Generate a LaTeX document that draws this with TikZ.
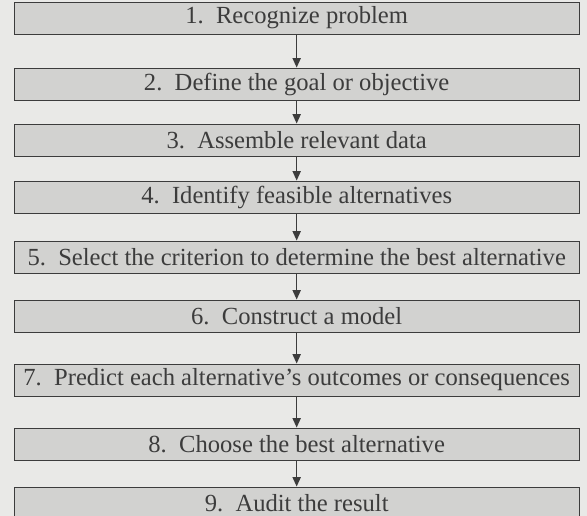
\documentclass[tikz,border=0pt]{standalone}
\usepackage{fontspec}
\setmainfont{Liberation Serif}
\usetikzlibrary{arrows.meta}
\definecolor{paper}{HTML}{E9E9E7}
\definecolor{boxfill}{HTML}{D2D2D0}
\definecolor{ink}{HTML}{3C3C3C}
\begin{document}
\begin{tikzpicture}[
        step_box/.style={rectangle, draw=ink, fill=boxfill, line width=0.8pt, minimum width=16.95cm, minimum height=0.96cm, inner sep=0pt, text=ink, font=\fontsize{21}{24}\selectfont},
        flow/.style={-{Triangle[length=8pt,width=7pt]}, draw=ink, line width=1pt}
    ]
        % page
        \fill[paper] (0,0) rectangle (17.61,-15.48);
        \useasboundingbox (0,0) rectangle (17.61,-15.48);

        % steps
        \node[step_box] (s1) at (8.9,-0.54) {1.\enspace Recognize problem};
        \node[step_box] (s2) at (8.9,-2.52) {2.\enspace Define the goal or objective};
        \node[step_box] (s3) at (8.9,-4.2) {3.\enspace Assemble relevant data};
        \node[step_box] (s4) at (8.9,-5.91) {4.\enspace Identify feasible alternatives};
        \node[step_box] (s5) at (8.9,-7.71) {5.\enspace Select the criterion to determine the best alternative};
        \node[step_box] (s6) at (8.9,-9.48) {6.\enspace Construct a model};
        \node[step_box] (s7) at (8.9,-11.4) {7.\enspace Predict each alternative's outcomes or consequences};
        \node[step_box] (s8) at (8.9,-13.32) {8.\enspace Choose the best alternative};
        \node[step_box] (s9) at (8.9,-15.09) {9.\enspace Audit the result};

        % arrows
        \draw[flow] (s1) -- (s2);
        \draw[flow] (s2) -- (s3);
        \draw[flow] (s3) -- (s4);
        \draw[flow] (s4) -- (s5);
        \draw[flow] (s5) -- (s6);
        \draw[flow] (s6) -- (s7);
        \draw[flow] (s7) -- (s8);
        \draw[flow] (s8) -- (s9);
    \end{tikzpicture}
\end{document}
